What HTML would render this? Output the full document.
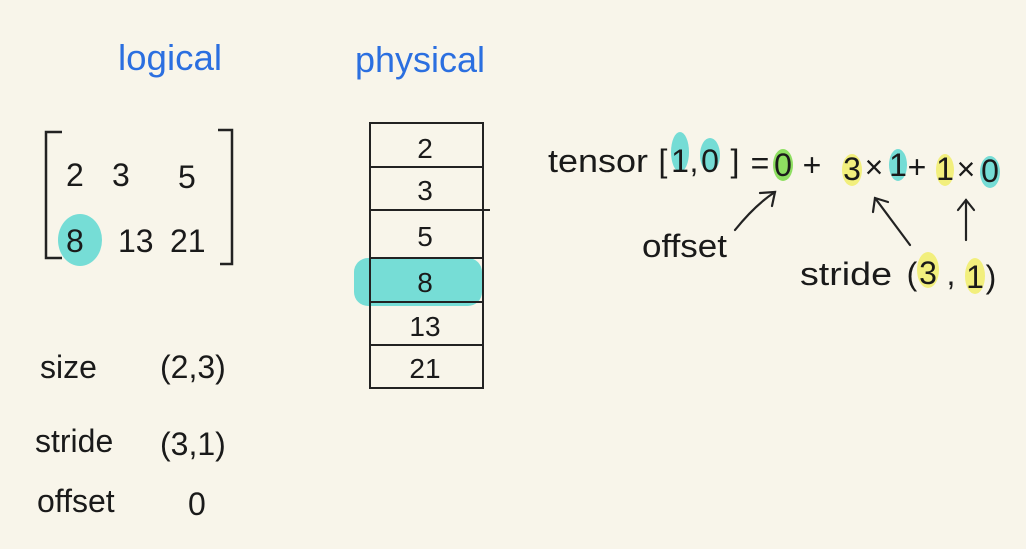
<!DOCTYPE html>
<html><head><meta charset="utf-8"><style>
html,body{margin:0;padding:0;background:#f8f5ea;}
svg{display:block}
text{font-family:"Liberation Sans",sans-serif;fill:#1a1a1a}
</style></head><body>
<svg width="1026" height="549" viewBox="0 0 1026 549" xmlns="http://www.w3.org/2000/svg">
<rect width="1026" height="549" fill="#f8f5ea"/>
<text x="118" y="70" font-size="36" style="fill:#2b6fe0" textLength="104" lengthAdjust="spacingAndGlyphs">logical</text>
<text x="355" y="72" font-size="36" style="fill:#2b6fe0" textLength="130" lengthAdjust="spacingAndGlyphs">physical</text>
<path d="M62,132 L46,132 L46,258 L62,258" fill="none" stroke="#222" stroke-width="2.5"/>
<path d="M218,130 L232,130 L232,264 L220,264" fill="none" stroke="#222" stroke-width="2.5"/>
<ellipse cx="80" cy="240" rx="22" ry="26" fill="#5fd8d2" opacity="0.85"/>
<g font-size="32">
<text x="66" y="186">2</text><text x="112" y="186">3</text><text x="178" y="188">5</text>
<text x="66" y="252">8</text><text x="118" y="252">13</text><text x="170" y="252">21</text>
</g>
<g font-size="32">
<text x="40" y="378">size</text><text x="160" y="378">(2,3)</text>
<text x="35" y="452">stride</text><text x="160" y="455">(3,1)</text>
<text x="37" y="512">offset</text><text x="188" y="515">0</text>
</g>
<rect x="354" y="258" width="128" height="48" rx="14" fill="#5fd8d2" opacity="0.85"/>
<g fill="none" stroke="#222" stroke-width="2">
<rect x="370" y="123" width="113" height="265"/>
<line x1="370" y1="167" x2="483" y2="167"/>
<line x1="370" y1="210" x2="490" y2="210"/>
<line x1="370" y1="258" x2="483" y2="258"/>
<line x1="370" y1="302" x2="483" y2="302"/>
<line x1="370" y1="345" x2="483" y2="345"/>
</g>
<g font-size="28" text-anchor="middle">
<text x="425" y="158">2</text><text x="425" y="200">3</text><text x="425" y="246">5</text>
<text x="425" y="292">8</text><text x="425" y="336">13</text><text x="425" y="378">21</text>
</g>
<g opacity="0.85">
<ellipse cx="680" cy="152" rx="9" ry="20" fill="#5fd8d2"/>
<ellipse cx="710" cy="155" rx="10" ry="17" fill="#5fd8d2"/>
<ellipse cx="783" cy="165" rx="10" ry="16" fill="#7cdc4a"/>
<ellipse cx="852" cy="170" rx="10" ry="16" fill="#f2ee6a"/>
<ellipse cx="898" cy="165" rx="9" ry="16" fill="#5fd8d2"/>
<ellipse cx="945" cy="170" rx="9" ry="16" fill="#f2ee6a"/>
<ellipse cx="990" cy="172" rx="10" ry="16" fill="#5fd8d2"/>
<ellipse cx="928" cy="270" rx="11" ry="18" fill="#f2ee6a"/>
<ellipse cx="975" cy="276" rx="10" ry="18" fill="#f2ee6a"/>
</g>
<text x="548" y="172" font-size="32" textLength="100" lengthAdjust="spacingAndGlyphs">tensor</text>
<g font-size="32" text-anchor="middle">
<text x="663" y="172">[</text><text x="680" y="172">1</text><text x="694" y="172">,</text><text x="710" y="172">0</text><text x="735" y="172">]</text>
<text x="760" y="174">=</text><text x="783" y="176">0</text><text x="812" y="176">+</text>
<text x="852" y="180">3</text><text x="874" y="178">×</text><text x="898" y="176">1</text><text x="917" y="178">+</text>
<text x="945" y="180">1</text><text x="966" y="180">×</text><text x="990" y="182">0</text>
</g>
<text x="642" y="257" font-size="32" textLength="85" lengthAdjust="spacingAndGlyphs">offset</text>
<text x="800" y="285" font-size="32" textLength="92" lengthAdjust="spacingAndGlyphs">stride</text>
<g font-size="32" text-anchor="middle">
<text x="912" y="285">(</text><text x="928" y="284">3</text><text x="951" y="285">,</text><text x="975" y="288">1</text><text x="991" y="288">)</text>
</g>
<g fill="none" stroke="#222" stroke-width="2.2" stroke-linecap="round">
<path d="M735,230 Q755,205 775,192"/><path d="M760,193 L775,192 L772,206"/>
<path d="M910,245 L875,198"/><path d="M873,212 L875,198 L888,202"/>
<path d="M966,240 L966,200"/><path d="M958,210 L966,200 L974,210"/>
</g>
</svg>
</body></html>
